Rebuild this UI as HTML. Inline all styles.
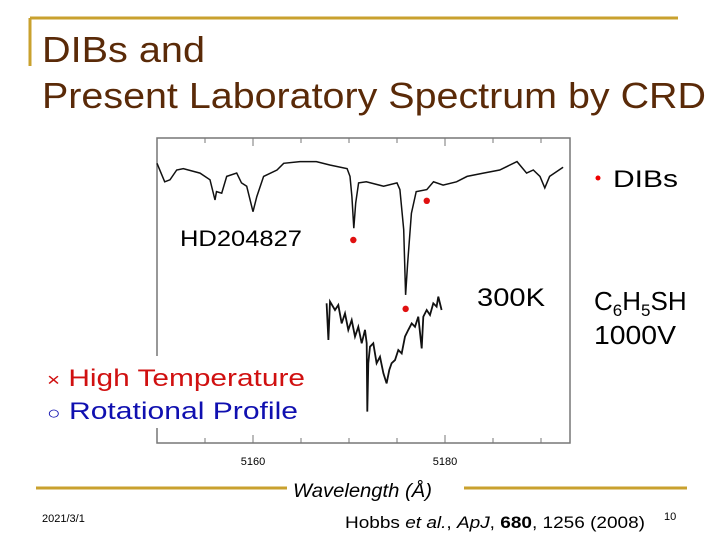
<!DOCTYPE html>
<html><head><meta charset="utf-8"><style>
body{margin:0;width:720px;height:540px;background:#fff;overflow:hidden;font-family:"Liberation Sans",sans-serif}
svg{display:block}
</style></head><body>
<svg id="c" width="720" height="540" viewBox="0 0 720 540">
<line x1="30" y1="18" x2="678" y2="18" stroke="#c9a12e" stroke-width="3"/>
<line x1="30" y1="18" x2="30" y2="66" stroke="#c9a12e" stroke-width="3"/>
<text x="42" y="62" font-size="36" fill="#5a2a08" textLength="163" lengthAdjust="spacingAndGlyphs">DIBs and</text>
<text x="42" y="108" font-size="36" fill="#5a2a08" textLength="664" lengthAdjust="spacingAndGlyphs">Present Laboratory Spectrum by CRD</text>
<rect x="157" y="138" width="413" height="305" fill="none" stroke="#777" stroke-width="1.5"/>
<g id="ticks"></g>
<path id="sky" fill="none" stroke="#111" stroke-width="1.5"/>
<path id="lab" fill="none" stroke="#111" stroke-width="1.8"/>
<g id="dots"></g>
<text x="180" y="246" font-size="22" fill="#000" textLength="122" lengthAdjust="spacingAndGlyphs">HD204827</text>
<text x="477" y="306" font-size="25" fill="#000" textLength="68" lengthAdjust="spacingAndGlyphs">300K</text>
<text x="594" y="310" font-size="26" fill="#000">C<tspan font-size="17" dy="6">6</tspan><tspan dy="-6">H</tspan><tspan font-size="17" dy="6">5</tspan><tspan dy="-6">SH</tspan></text>
<text x="594" y="344" font-size="26" fill="#000" textLength="82" lengthAdjust="spacingAndGlyphs">1000V</text>
<circle cx="598" cy="178" r="2.5" fill="#e00"/>
<text x="613" y="187" font-size="24" textLength="65" lengthAdjust="spacingAndGlyphs">DIBs</text>
<rect x="40" y="356" width="270" height="72" fill="#fff"/>
<text x="47" y="386" font-size="24" fill="#d01010" textLength="258" lengthAdjust="spacingAndGlyphs"><tspan font-size="18">×</tspan> High Temperature</text>
<text x="47" y="419" font-size="24" fill="#1010b0" textLength="251" lengthAdjust="spacingAndGlyphs"><tspan font-size="18">○</tspan> Rotational Profile</text>
<line x1="36" y1="488" x2="287" y2="488" stroke="#c9a12e" stroke-width="3"/>
<line x1="464" y1="488" x2="687" y2="488" stroke="#c9a12e" stroke-width="3"/>
<text x="293" y="497" font-size="19" font-style="italic" fill="#000" textLength="139" lengthAdjust="spacingAndGlyphs">Wavelength (Å)</text>
<text x="42" y="522" font-size="11" fill="#000">2021/3/1</text>
<text x="345" y="528" font-size="17" fill="#000" textLength="300" lengthAdjust="spacingAndGlyphs">Hobbs <tspan font-style="italic">et al.</tspan>, <tspan font-style="italic">ApJ</tspan>, <tspan font-weight="bold">680</tspan>, 1256 (2008)</text>
<text x="664" y="520" font-size="11" fill="#000">10</text>
</svg>
<script>
const skyWl=[5150.0,5150.8,5151.35,5152.05,5152.74,5154.48,5155.52,5156.04,5156.2,5156.74,5157.26,5158.3,5158.8,5159.34,5160.0,5160.4,5161.1,5162.5,5163.2,5164.9,5166.6,5168.0,5169.8,5170.1,5170.3,5170.5,5170.7,5171.0,5171.8,5173.6,5175.0,5175.3,5175.7,5175.9,5176.1,5176.5,5177.0,5178.1,5178.8,5179.8,5181.2,5182.3,5184.0,5185.7,5187.5,5188.5,5189.2,5189.9,5190.4,5190.9,5192.3];
const skyFlux=[0.999,0.933,0.94,0.975,0.98,0.964,0.94,0.868,0.898,0.892,0.952,0.964,0.929,0.917,0.826,0.88,0.952,0.975,0.999,1.005,1.005,0.993,0.98,0.952,0.88,0.767,0.857,0.929,0.933,0.917,0.929,0.905,0.762,0.529,0.64,0.82,0.898,0.905,0.933,0.921,0.933,0.952,0.964,0.975,1.005,0.964,0.975,0.952,0.911,0.952,0.985];
const labWl=[5167.67,5167.85,5168.02,5168.54,5168.89,5169.24,5169.58,5169.93,5170.28,5170.63,5170.97,5171.32,5171.67,5171.84,5171.91,5172.01,5172.19,5172.53,5172.88,5173.23,5173.58,5173.92,5174.2,5174.44,5174.79,5175.14,5175.49,5175.83,5176.18,5176.53,5176.88,5177.22,5177.57,5177.74,5178.09,5178.44,5178.78,5179.13,5179.3,5179.65];
const labFlux=[0.499,0.368,0.505,0.475,0.493,0.427,0.463,0.404,0.439,0.38,0.415,0.356,0.404,0.356,0.112,0.285,0.344,0.356,0.285,0.308,0.249,0.213,0.261,0.285,0.296,0.332,0.32,0.38,0.404,0.427,0.415,0.451,0.338,0.451,0.475,0.457,0.499,0.487,0.523,0.475];
const dibWl=[5170.45,5178.1,5175.9];
const dibFlux=[0.725,0.865,0.479];
const tickVals=[5150,5155,5160,5165,5170,5175,5180,5185,5190];
const tickLabels=["5160","5180"];
const X=w=>253+(w-5160)*9.6;
const Y=f=>443-f*280;
const NS='http://www.w3.org/2000/svg';
function path(ws,fs){return ws.map((w,i)=>(i?'L':'M')+X(w).toFixed(1)+','+Y(fs[i]).toFixed(1)).join('');}
document.getElementById('sky').setAttribute('d',path(skyWl,skyFlux));
document.getElementById('lab').setAttribute('d',path(labWl,labFlux));
const dots=document.getElementById('dots');
dibWl.forEach((w,i)=>{const c=document.createElementNS(NS,'circle');
c.setAttribute('cx',X(w));c.setAttribute('cy',Y(dibFlux[i]));c.setAttribute('r',3.2);c.setAttribute('fill','#e01010');


dots.appendChild(c);});
const tg=document.getElementById('ticks');
tickVals.forEach(v=>{const major=(v%20===0);const x=X(v);
[[138,138+(major?8:5)],[443,443-(major?8:5)]].forEach(p=>{const l=document.createElementNS(NS,'line');
l.setAttribute('x1',x);l.setAttribute('x2',x);l.setAttribute('y1',p[0]);l.setAttribute('y2',p[1]);l.setAttribute('stroke','#777');


tg.appendChild(l);});
if(major){const t=document.createElementNS(NS,'text');t.setAttribute('x',x);t.setAttribute('y',465);t.setAttribute('font-size','11');t.setAttribute('text-anchor','middle');
t.textContent=tickLabels[(v-5160)/20];


tg.appendChild(t);}});
</script>
</body></html>
